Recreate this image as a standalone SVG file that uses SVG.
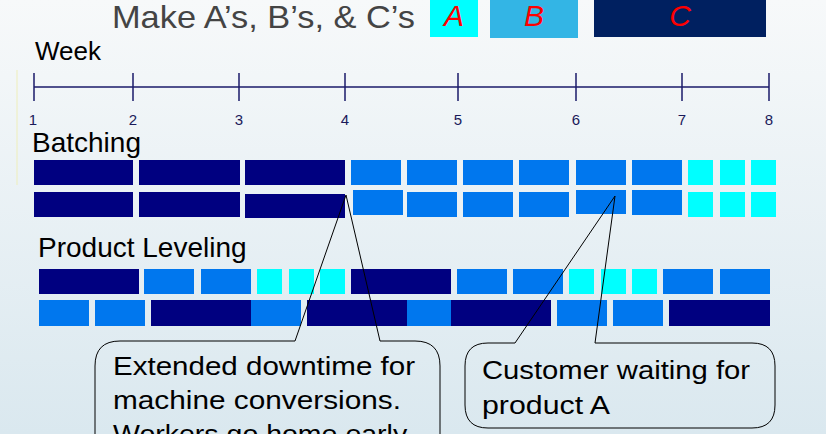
<svg xmlns="http://www.w3.org/2000/svg" width="826" height="434" viewBox="0 0 826 434">
<defs>
<linearGradient id="bg" x1="0" y1="0" x2="0" y2="1"><stop offset="0" stop-color="#f7f9fa"/><stop offset="1" stop-color="#dae8ef"/></linearGradient>
<style>
.c{fill:#000080}.b{fill:#0077ee}.a{fill:#00ffff}
.t{font-family:"Liberation Sans",sans-serif;fill:#000}
.n{font-family:"Liberation Sans",sans-serif;font-size:15px;fill:#1a1a5a;text-anchor:middle}
.ax{stroke:#1a1a6a;stroke-width:1.5}
.lg{font-family:"Liberation Sans",sans-serif;font-size:30px;fill:#ff0000;text-anchor:middle;font-style:italic}
.call{fill:none;stroke:#000;stroke-width:1}
</style>
</defs>
<rect width="826" height="434" fill="url(#bg)"/>
<line x1="17" y1="70" x2="17" y2="185" stroke="#eeeebb" stroke-width="1"/>
<g id="title">
<text class="t" x="112" y="28" font-size="32" style="fill:#444" textLength="303" lengthAdjust="spacingAndGlyphs">Make A’s, B’s, &amp; C’s</text>
<rect x="430" y="0" width="48" height="37" fill="#00ffff"/><text class="lg" x="454" y="26">A</text>
<rect x="490" y="0" width="88" height="38" fill="#33b5e5"/><text class="lg" x="534" y="26">B</text>
<rect x="594" y="0" width="172" height="37" fill="#002060"/><text class="lg" x="680" y="26">C</text>
</g>
<g id="axis">
<text class="t" x="35" y="60" font-size="26">Week</text>
<line class="ax" x1="34" y1="87" x2="769" y2="87"/>
<g class="ax"><line x1="34" y1="73" x2="34" y2="101"/><line x1="133" y1="73" x2="133" y2="101"/><line x1="239" y1="73" x2="239" y2="101"/><line x1="345" y1="73" x2="345" y2="101"/><line x1="458" y1="73" x2="458" y2="101"/><line x1="576" y1="73" x2="576" y2="101"/><line x1="682" y1="73" x2="682" y2="101"/><line x1="769" y1="73" x2="769" y2="101"/></g>
<text class="n" x="33" y="125">1</text><text class="n" x="133" y="125">2</text><text class="n" x="239" y="125">3</text><text class="n" x="345" y="125">4</text><text class="n" x="458" y="125">5</text><text class="n" x="576" y="125">6</text><text class="n" x="682" y="125">7</text><text class="n" x="769" y="125">8</text>
</g>
<g id="batching">
<text class="t" x="32" y="152" font-size="28">Batching</text>
<rect class="c" x="34" y="160" width="99" height="25"/><rect class="c" x="139" y="160" width="101" height="25"/><rect class="c" x="245" y="160" width="100" height="25"/>
<rect class="b" x="351" y="160" width="50" height="25"/><rect class="b" x="407" y="160" width="50" height="25"/><rect class="b" x="463" y="160" width="50" height="25"/><rect class="b" x="519" y="160" width="50" height="25"/><rect class="b" x="576" y="160" width="50" height="25"/><rect class="b" x="632" y="160" width="50" height="25"/>
<rect class="a" x="688" y="160" width="25" height="25"/><rect class="a" x="720" y="160" width="25" height="25"/><rect class="a" x="751" y="160" width="25" height="25"/>
<rect class="c" x="34" y="192" width="99" height="25"/><rect class="c" x="139" y="192" width="101" height="25"/><rect class="c" x="245" y="194" width="100" height="24"/>
<rect class="b" x="353" y="190" width="50" height="25"/><rect class="b" x="407" y="192" width="50" height="25"/><rect class="b" x="463" y="192" width="50" height="25"/><rect class="b" x="519" y="192" width="50" height="25"/><rect class="b" x="576" y="190" width="50" height="24"/><rect class="b" x="632" y="190" width="50" height="25"/>
<rect class="a" x="688" y="192" width="25" height="25"/><rect class="a" x="720" y="192" width="25" height="25"/><rect class="a" x="751" y="192" width="25" height="25"/>
</g>
<g id="leveling">
<text class="t" x="38" y="257" font-size="28">Product Leveling</text>
<rect class="c" x="39" y="269" width="100" height="25"/><rect class="b" x="144" y="269" width="50" height="25"/><rect class="b" x="201" y="269" width="50" height="25"/>
<rect class="a" x="257" y="269" width="25" height="25"/><rect class="a" x="289" y="269" width="25" height="25"/><rect class="a" x="320" y="269" width="25" height="25"/>
<rect class="c" x="351" y="269" width="100" height="25"/><rect class="b" x="457" y="269" width="50" height="25"/><rect class="b" x="513" y="269" width="50" height="25"/>
<rect class="a" x="569" y="269" width="25" height="25"/><rect class="a" x="601" y="269" width="25" height="25"/><rect class="a" x="632" y="269" width="25" height="25"/>
<rect class="b" x="663" y="269" width="50" height="25"/><rect class="b" x="720" y="269" width="50" height="25"/>
<rect class="b" x="39" y="300" width="50" height="26"/><rect class="b" x="95" y="300" width="50" height="26"/><rect class="c" x="151" y="300" width="100" height="26"/><rect class="b" x="251" y="300" width="50" height="26"/>
<rect class="c" x="307" y="300" width="100" height="26"/><rect class="b" x="407" y="300" width="44" height="26"/><rect class="c" x="451" y="300" width="100" height="26"/>
<rect class="b" x="557" y="300" width="50" height="26"/><rect class="b" x="613" y="300" width="50" height="26"/><rect class="c" x="669" y="300" width="101" height="26"/>
</g>
<g id="connectors">
<polyline class="call" points="295,341 346,195 380,341"/>
<polyline class="call" points="515,343 615,196 595,343"/>
</g>
<g id="callout1">
<path d="M295,341 H120 Q95,341 95,366 V440 H440 V366 Q440,341 415,341 H380" fill="none" stroke="#000"/>
<text class="t" x="113" y="375" font-size="26" textLength="302" lengthAdjust="spacingAndGlyphs">Extended downtime for</text>
<text class="t" x="113" y="409" font-size="26" textLength="288" lengthAdjust="spacingAndGlyphs">machine conversions.</text>
<text class="t" x="113" y="443" font-size="26" textLength="300" lengthAdjust="spacingAndGlyphs">Workers go home early.</text>
</g>
<g id="callout2">
<path d="M515,343 H488 Q465,343 465,366 V405 Q465,428 488,428 H752 Q775,428 775,405 V366 Q775,343 752,343 H595" fill="none" stroke="#000"/>
<text class="t" x="482" y="379" font-size="26" textLength="268" lengthAdjust="spacingAndGlyphs">Customer waiting for</text>
<text class="t" x="482" y="414" font-size="26" textLength="128" lengthAdjust="spacingAndGlyphs">product A</text>
</g>
</svg>
